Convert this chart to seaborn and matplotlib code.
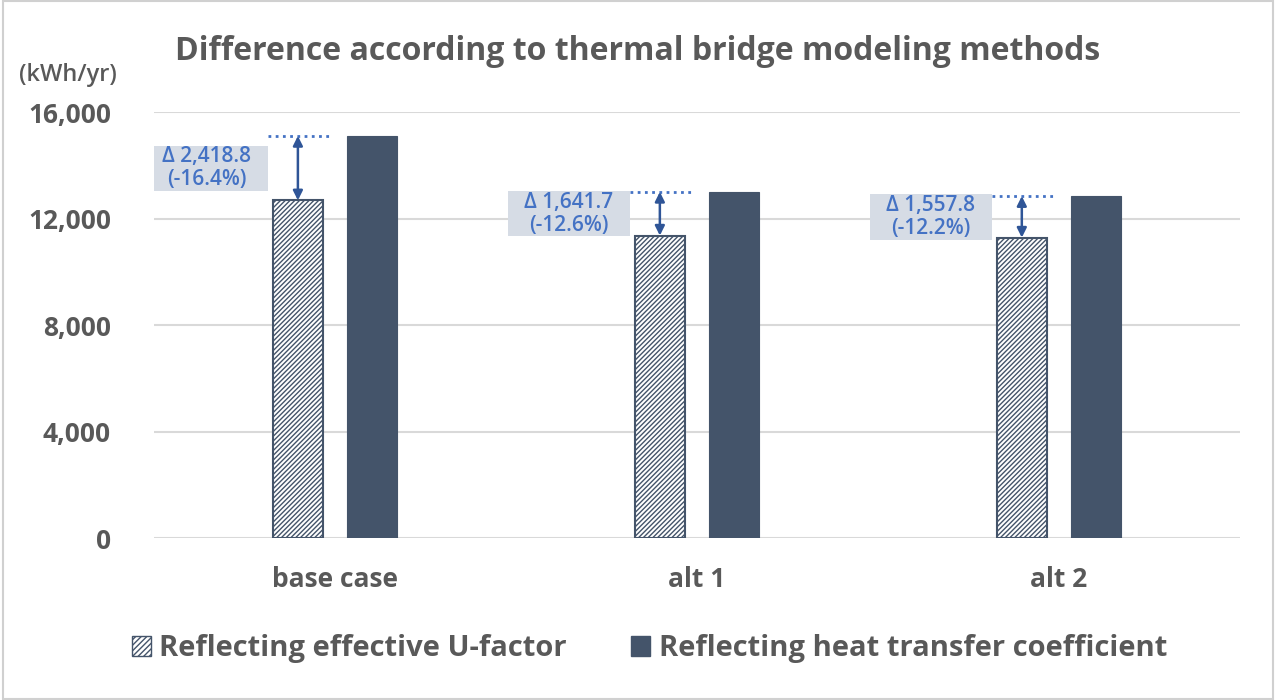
import matplotlib
matplotlib.use("Agg")
import matplotlib.pyplot as plt
import matplotlib.patches as mpatches
import seaborn as sns
import pandas as pd

# data
cases = ["base case", "alt 1", "alt 2"]
effective_u = [12681, 11358, 11282]
heat_transfer = [15100, 13000, 12840]
delta_labels = ["Δ 2,418.8\n(-16.4%)", "Δ 1,641.7\n(-12.6%)", "Δ 1,557.8\n(-12.2%)"]
series_names = ["Reflecting effective U-factor", "Reflecting heat transfer coefficient"]
y_ticks = [0, 4000, 8000, 12000, 16000]

DARK = "#44546A"
GREY = "#595959"
BLUE = "#4472C4"
BOX = "#D6DCE5"

df = pd.DataFrame({
    "case": cases * 2,
    "value": effective_u + heat_transfer,
    "series": [series_names[0]] * 3 + [series_names[1]] * 3,
})

sns.set_theme(style="white")
plt.rcParams["font.family"] = ["Open Sans", "DejaVu Sans"]
plt.rcParams["hatch.color"] = DARK
plt.rcParams["hatch.linewidth"] = 1.0

fig = plt.figure(figsize=(12.76, 7.0), dpi=100)
ax = fig.add_axes([0.1207, 0.2314, 0.851, 0.6086])

sns.barplot(data=df, x="case", y="value", hue="series",
            palette=["white", DARK], width=0.41, gap=0.32,
            legend=False, ax=ax, saturation=1)

bars_u = ax.containers[0]
bars_h = ax.containers[1]
for b in bars_u:
    b.set_hatch("///////")
    b.set_edgecolor(DARK)
    b.set_linewidth(1.5)
for b in bars_h:
    b.set_edgecolor(DARK)
    b.set_linewidth(0.8)

ax.set_xlim(-0.5, 2.5)
ax.set_ylim(0, 16000)
ax.set_yticks(y_ticks)
ax.set_yticklabels([f"{v:,}" for v in y_ticks])
ax.yaxis.grid(True, color="#D9D9D9", linewidth=1.5)
ax.set_axisbelow(True)
for s in ax.spines.values():
    s.set_visible(False)
ax.tick_params(axis="both", length=0, labelsize=19, labelcolor=GREY)
ax.tick_params(axis="y", pad=31)
ax.tick_params(axis="x", pad=20)
for lab in ax.get_xticklabels() + ax.get_yticklabels():
    lab.set_fontweight("bold")
ax.set_xlabel("")
ax.set_ylabel("")

# delta annotations
for i, (bu, bh) in enumerate(zip(bars_u, bars_h)):
    lo = bu.get_height()
    hi = bh.get_height()
    xa = bu.get_x() + bu.get_width() / 2
    ax.annotate("", xy=(xa, hi), xytext=(xa, lo),
                arrowprops=dict(arrowstyle="<|-|>", color="#2F5597", lw=1.8,
                                mutation_scale=14, shrinkA=0, shrinkB=0))
    x_left = bu.get_x() - 0.014
    ax.plot([x_left, bh.get_x() - 0.045], [hi, hi], color=BLUE, lw=2,
            linestyle=(0, (1, 1.6)))
    box_w, box_h = 0.335, 1700
    mid = (lo + hi) / 2
    ax.add_patch(mpatches.Rectangle((x_left - box_w, mid - box_h / 2), box_w, box_h,
                                    facecolor=BOX, edgecolor="none", zorder=1))
    ax.text(x_left - box_w / 2, mid, delta_labels[i], ha="center", va="center",
            color=BLUE, fontsize=15, fontweight="semibold", linespacing=1.1, zorder=3)

fig.text(0.5, 0.926, "Difference according to thermal bridge modeling methods",
         ha="center", va="center", fontsize=23, fontweight="bold", color=GREY)
fig.text(0.053, 0.893, "(kWh/yr)", ha="center", va="center", fontsize=17,
         fontweight="semibold", color=GREY)

handles = [mpatches.Patch(facecolor="white", edgecolor=DARK, hatch="//////", label=series_names[0]),
           mpatches.Patch(facecolor=DARK, edgecolor=DARK, label=series_names[1])]
leg = fig.legend(handles=handles, loc="center", bbox_to_anchor=(0.509, 0.073), ncol=2,
                 frameon=False, labelcolor=GREY, handlelength=0.65,
                 handleheight=0.65, handletextpad=0.3, columnspacing=2.2,
                 prop={"family": ["Open Sans", "DejaVu Sans"], "weight": "bold", "size": 21})

fig.patches.append(mpatches.Rectangle((0.002, 0.002), 0.996, 0.996, transform=fig.transFigure,
                                      fill=False, edgecolor="#D0D0D0", linewidth=1.5))

fig.savefig("out.png", dpi=100)
